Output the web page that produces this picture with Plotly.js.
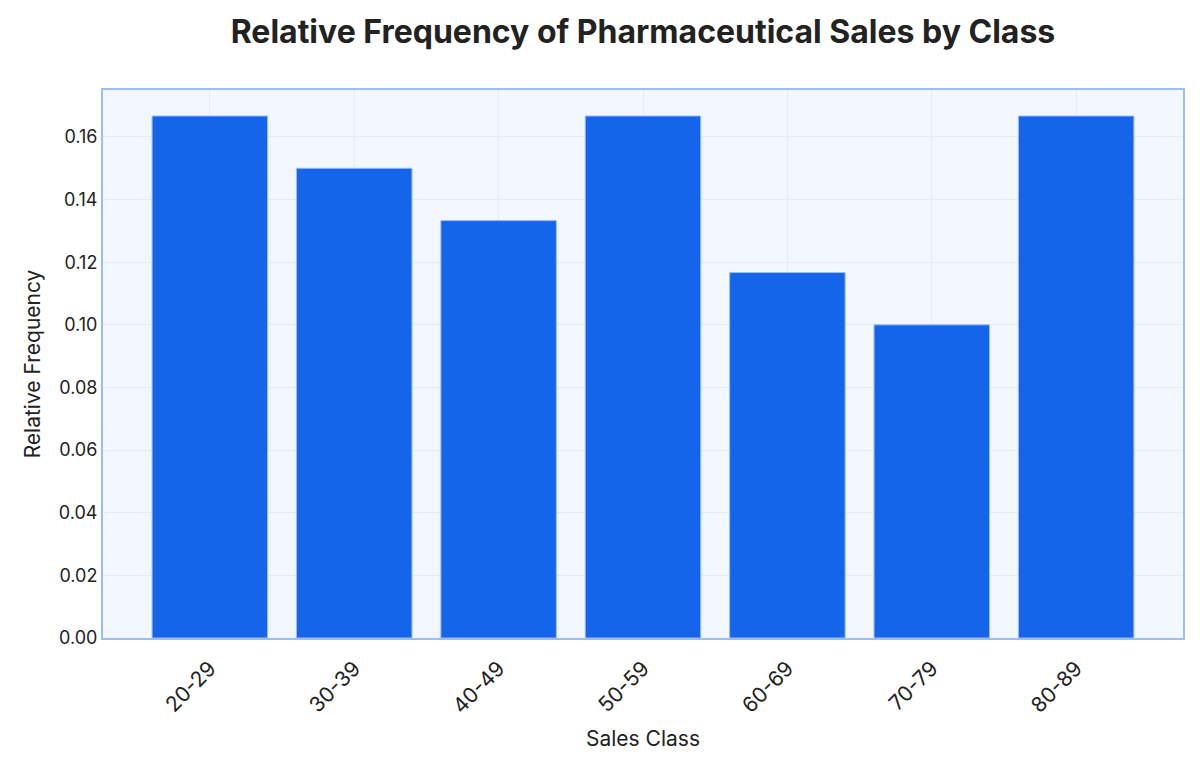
<!DOCTYPE html>
<html>
<head>
<meta charset="utf-8">
<script src="https://cdn.plot.ly/plotly-3.0.1.min.js"></script>
<style>html,body{margin:0;padding:0;background:#fff;}#chart{width:1200px;height:764px;}</style>
</head>
<body>
<div id="chart"></div>
<script>
const categories = ["20-29", "30-39", "40-49", "50-59", "60-69", "70-79", "80-89"];
const relativeFrequency = [0.1667, 0.15, 0.1333, 0.1667, 0.1167, 0.1, 0.1667];

const fontFamily = "Inter, 'Open Sans', sans-serif";

Plotly.newPlot("chart", [{
  type: "bar",
  x: categories,
  y: relativeFrequency,
  marker: {color: "#1565eb", line: {color: "#9cbcf7", width: 1}},
  width: 0.8
}], {
  width: 1200, height: 764,
  margin: {l: 103, r: 17, t: 90, b: 126},
  paper_bgcolor: "#ffffff",
  plot_bgcolor: "#f2f7fe",
  font: {family: fontFamily, color: "#222222"},
  title: {text: "<b>Relative Frequency of Pharmaceutical Sales by Class</b>", xref: "paper", x: 0.5, xanchor: "center", yref: "container", y: 0.958, yanchor: "middle", font: {size: 32, color: "#222222", family: fontFamily}},
  xaxis: {
    title: {text: "Sales Class", font: {size: 21}, standoff: 14},
    range: [-0.74, 6.74],
    tickangle: -45,
    tickfont: {size: 21},
    showgrid: true, gridcolor: "#e3ebf8",
    showline: true, linecolor: "#9cbcf7", linewidth: 2, mirror: true,
    ticks: "outside", ticklen: 8, tickcolor: "rgba(0,0,0,0)"
  },
  yaxis: {
    title: {text: "Relative Frequency", font: {size: 21}, standoff: 12},
    range: [0, 0.175],
    tickformat: ".2f",
    dtick: 0.02,
    tickfont: {size: 18},
    showgrid: true, gridcolor: "#e3ebf8",
    zeroline: false,
    showline: true, linecolor: "#9cbcf7", linewidth: 2, mirror: true,
    ticks: ""
  },
  showlegend: false
}, {displayModeBar: false});
</script>
</body>
</html>
